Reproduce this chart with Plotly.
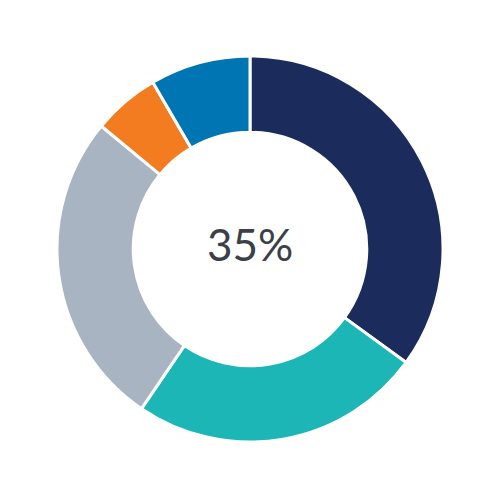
import plotly.graph_objects as go

labels = ["A", "B", "C", "D", "E"]
values = [35, 24.5, 26.5, 5.6, 8.4]
colors = ["#1b2b5b", "#1cb6b7", "#a9b4c2", "#f47c20", "#0075b3"]
center_text = "35%"

fig = go.Figure(go.Pie(
    labels=labels,
    values=values,
    hole=0.605,
    sort=False,
    direction="clockwise",
    rotation=0,
    marker=dict(colors=colors, line=dict(color="white", width=3)),
    textinfo="none",
    hoverinfo="none",
    showlegend=False,
))
fig.add_annotation(text=center_text, x=0.5, y=0.5, xref="paper", yref="paper",
                   showarrow=False, yshift=5,
                   font=dict(family="Lato", size=44, color="#3b3f47"))
fig.update_layout(width=500, height=500, margin=dict(l=49, r=65, t=48, b=66),
                  paper_bgcolor="white", plot_bgcolor="white")
fig.write_html("out.html")
